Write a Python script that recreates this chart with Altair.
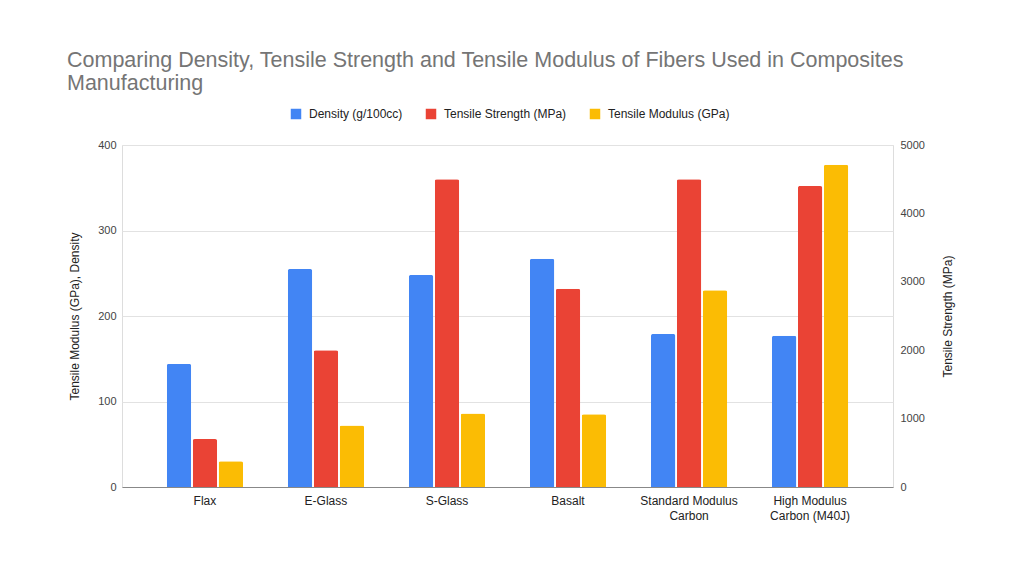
import altair as alt
import pandas as pd

# Fiber properties per material
categories = ["Flax", "E-Glass", "S-Glass", "Basalt",
              "Standard Modulus Carbon", "High Modulus Carbon (M40J)"]
density = [144, 255, 248, 267, 179, 177]        # g/100cc
strength = [700, 2000, 4500, 2900, 4500, 4400]  # MPa
modulus = [30, 72, 86, 85, 230, 377]            # GPa

series_names = ["Density (g/100cc)", "Tensile Strength (MPa)", "Tensile Modulus (GPa)"]
series_colors = ["#4285F4", "#EA4335", "#FBBC04"]

# Two-line labels for the long category names
label_lines = {
    "Standard Modulus Carbon": ["Standard Modulus", "Carbon"],
    "High Modulus Carbon (M40J)": ["High Modulus", "Carbon (M40J)"],
}

rows = []
for i, cat in enumerate(categories):
    rows.append({"category": cat, "series": series_names[0], "value": density[i]})
    rows.append({"category": cat, "series": series_names[1], "value": strength[i]})
    rows.append({"category": cat, "series": series_names[2], "value": modulus[i]})
df = pd.DataFrame(rows)

label_expr = " : ".join(
    [f"datum.value == '{k}' ? {v}" for k, v in label_lines.items()] + ["datum.value"]
)

FONT = "Liberation Sans"

x_enc = alt.X(
    "category:N",
    sort=categories,
    scale=alt.Scale(paddingInner=0.37, paddingOuter=0.37),
    axis=alt.Axis(
        title=None, labelAngle=0, ticks=False, labelPadding=8,
        labelExpr=label_expr, labelFontSize=12, labelColor="#222222",
        labelFont=FONT, domainColor="#888888", domainWidth=1.2,
        labelLineHeight=15,
    ),
)
xoff_enc = alt.XOffset(
    "series:N", scale=alt.Scale(domain=series_names, paddingInner=0.06)
)
color_enc = alt.Color(
    "series:N",
    scale=alt.Scale(domain=series_names, range=series_colors),
    legend=alt.Legend(
        title=None, orient="none", direction="horizontal",
        legendX=168, legendY=-37, symbolType="square", symbolSize=110,
        symbolStrokeWidth=0, labelFontSize=12, labelColor="#222222",
        labelFont=FONT, columnPadding=22, symbolOffset=0, labelOffset=7,
    ),
)

bar = dict(cornerRadiusTopLeft=2, cornerRadiusTopRight=2)

left = alt.Chart(df).transform_filter(
    alt.FieldOneOfPredicate(field="series", oneOf=[series_names[0], series_names[2]])
).mark_bar(**bar).encode(
    x=x_enc,
    xOffset=xoff_enc,
    color=color_enc,
    y=alt.Y(
        "value:Q",
        scale=alt.Scale(domain=[0, 400], nice=False),
        axis=alt.Axis(
            title="Tensile Modulus (GPa), Density", orient="left",
            values=[0, 100, 200, 300, 400], domain=False, ticks=False,
            labelPadding=6, labelFontSize=11, labelColor="#444444",
            labelFont=FONT, titleFont=FONT, titleFontSize=12,
            titleFontWeight="normal", titleColor="#222222", titlePadding=16,
            gridColor="#e2e2e2",
        ),
    ),
)

right = alt.Chart(df).transform_filter(
    alt.FieldEqualPredicate(field="series", equal=series_names[1])
).mark_bar(**bar).encode(
    x=x_enc,
    xOffset=xoff_enc,
    color=color_enc,
    y=alt.Y(
        "value:Q",
        scale=alt.Scale(domain=[0, 5000], nice=False),
        axis=alt.Axis(
            title="Tensile Strength (MPa)", orient="right",
            values=[0, 1000, 2000, 3000, 4000, 5000], format="d",
            domain=False, ticks=False, grid=False, labelPadding=7,
            labelFontSize=11, labelColor="#444444", labelFont=FONT,
            titleFont=FONT, titleFontSize=12, titleFontWeight="normal",
            titleColor="#222222", titlePadding=30, titleAngle=270,
        ),
    ),
)

chart = alt.layer(left, right).resolve_scale(y="independent").properties(
    width=771,
    height=342,
    autosize=alt.AutoSizeParams(type="none"),
    padding={"left": 122, "top": 145, "right": 131, "bottom": 89},
    title=alt.TitleParams(
        text=["Comparing Density, Tensile Strength and Tensile Modulus of Fibers Used in Composites",
              "Manufacturing"],
        anchor="start", frame="group", dx=-55, offset=14,
        font=FONT, fontSize=21.5, fontWeight="normal", color="#757575",
        lineHeight=23,
    ),
).configure_view(stroke=None).configure(background="white")

chart.save("out.html", embed_options={"renderer": "svg", "actions": False})
